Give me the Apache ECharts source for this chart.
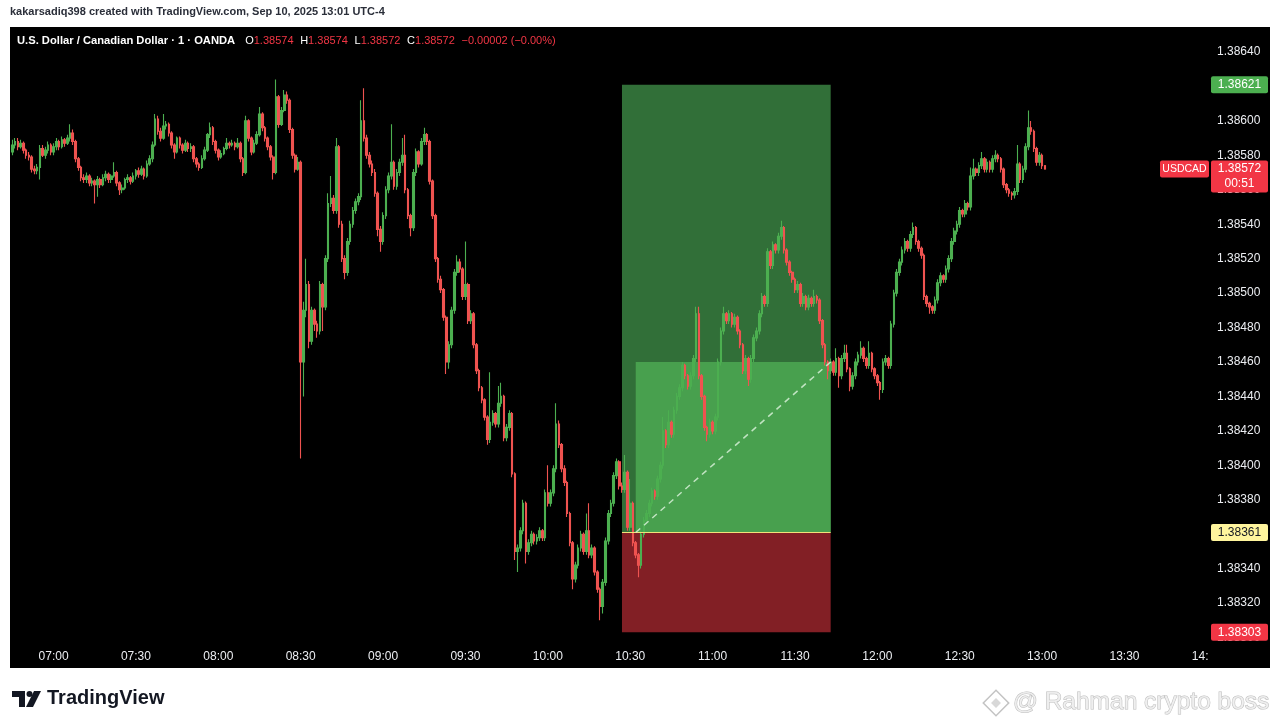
<!DOCTYPE html>
<html><head><meta charset="utf-8">
<script src="https://cdn.jsdelivr.net/npm/echarts@6/dist/echarts.min.js"></script>
<style>html,body{margin:0;padding:0;background:#fff}#c{width:1280px;height:728px}</style>
</head><body><div id="c"></div>
<script>
// Candle rows are [open, close, low, high] in points: 582 means 1.38582
const BASE = 1.38, POINT = 0.00001;
const from0645 = [[582,586,580,589],[586,588,584,590],[588,585,583,590],[585,587,584,589],[587,583,581,588],[583,580,578,584],[580,579,577,582],[579,572,570,580],[572,571,569,574],[571,573,569,575],[573,584,566,586],[584,580,579,586],[580,583,578,585],[583,586,581,588],[586,582,580,587]];
const from0700 = [[582,585,580,587],[585,588,583,590],[588,585,583,589],[585,589,584,591],[589,587,585,590],[587,590,586,592],[590,593,588,598],[593,588,586,595],[588,578,576,589],[578,573,571,579],[573,567,565,574],[567,566,564,569],[566,568,564,570],[568,564,562,569],[564,565,562,567],[565,563,552,566],[563,566,556,568],[566,563,561,567],[563,567,562,569],[567,569,565,571],[569,566,564,570],[566,568,564,569],[568,570,567,576],[570,564,562,571],[564,560,557,565],[560,561,558,563],[561,566,560,567],[566,567,564,569],[567,565,563,568],[565,568,564,570],[568,571,566,572],[571,569,567,573],[569,572,568,574],[572,568,566,573],[568,575,567,577],[575,578,574,580],[578,586,576,588],[586,601,585,604],[601,594,592,603],[594,590,588,596],[590,597,589,604],[597,598,595,600],[598,593,591,599],[593,586,584,594],[586,582,578,587],[582,590,581,591],[590,586,584,591],[586,583,581,587],[583,587,582,589],[587,584,582,588],[584,585,582,587],[585,578,576,586],[578,575,573,579],[575,573,571,576],[573,578,572,580],[578,583,577,585],[583,592,582,593],[592,596,590,599],[596,588,586,597],[588,583,581,589]];
const from0800 = [[583,579,577,584],[579,581,578,583],[581,584,580,585],[584,587,583,590],[587,586,584,588],[586,587,585,589],[587,585,583,588],[585,587,584,590],[587,578,576,588],[578,570,568,579],[570,600,569,603],[600,590,588,601],[590,582,580,591],[582,587,581,589],[587,592,586,594],[592,604,591,608],[604,596,594,605],[596,590,588,597],[590,585,583,591],[585,579,577,586],[579,570,566,580],[570,614,569,624],[614,598,596,615],[598,606,597,608],[606,615,605,618],[615,612,610,617],[612,595,593,613],[595,580,578,596],[580,572,570,581],[572,576,571,579],[576,460,404,577],[460,490,440,495],[490,505,486,520],[505,472,468,507],[472,490,470,492],[490,482,478,491],[482,478,474,484],[478,505,476,507],[505,492,478,506],[492,520,490,522],[520,552,518,558],[552,555,550,568],[555,548,546,557],[548,585,546,590],[585,540,538,586],[540,520,518,542],[520,512,508,522],[512,530,510,532],[530,540,528,542],[540,548,538,550],[548,553,546,555],[553,556,551,558],[556,600,554,612],[600,590,588,619],[590,580,578,592],[580,575,573,582],[575,570,568,577],[570,558,556,572],[558,537,533,559],[537,530,524,539]];
const from0900 = [[530,545,528,547],[545,560,543,562],[560,568,558,570],[568,576,566,598],[576,562,560,577],[562,570,560,572],[570,576,568,578],[576,580,574,590],[580,560,558,592],[560,545,543,561],[545,538,533,546],[538,570,536,572],[570,582,568,584],[582,575,573,583],[575,588,574,590],[588,592,586,596],[592,588,586,593],[588,565,563,589],[565,545,543,566],[545,520,518,546],[520,508,506,521],[508,502,500,510],[502,486,484,503],[486,460,453,487],[460,470,456,472],[470,490,468,492],[490,512,488,514],[512,518,510,522],[518,514,512,520],[514,498,496,515],[498,505,496,530],[505,484,482,506],[484,488,482,490],[488,470,468,489],[470,455,453,471],[455,445,443,456],[445,438,436,446],[438,428,426,439],[428,415,412,429],[415,425,413,454],[425,430,423,432],[430,424,422,431],[424,436,422,446],[436,440,434,448],[440,416,414,441],[416,422,414,424],[422,430,420,432],[430,395,393,431],[395,350,345,396],[350,352,338,354],[352,362,350,364],[362,378,360,380],[378,350,343,379],[350,355,348,357],[355,360,353,362],[360,356,354,361],[356,358,354,360],[358,362,356,364],[362,358,356,363],[358,384,356,386]];
const from1000 = [[384,378,376,400],[378,384,376,386],[384,398,382,400],[398,424,396,436],[424,412,410,426],[412,398,396,413],[398,390,388,400],[390,372,370,391],[372,355,353,373],[355,334,328,356],[334,342,332,344],[342,352,340,354],[352,360,350,362],[360,350,348,361],[350,362,348,372],[362,348,346,378],[348,352,346,354],[352,338,336,353],[338,328,326,339],[328,318,310,329],[318,332,314,334],[332,356,330,358],[356,372,354,374],[372,378,370,380],[378,394,376,396],[394,402,392,404],[402,388,386,403],[388,386,384,390],[386,396,384,406],[396,364,362,397],[364,378,362,392],[378,355,353,379],[355,348,346,356],[348,342,335,349],[342,360,340,362],[360,368,358,370],[368,372,366,374],[372,378,370,380],[378,385,376,387],[385,382,380,386],[382,392,380,394],[392,400,390,402],[400,420,398,428],[420,412,410,421],[412,425,410,432],[425,418,416,426],[418,432,416,434],[432,440,430,442],[440,445,438,447],[445,458,443,460],[458,452,450,459],[452,446,444,453],[446,452,444,454],[452,462,450,464],[462,488,460,492],[488,452,450,492],[452,440,438,453],[440,422,420,441],[422,418,414,423],[418,425,416,427]];
const from1100 = [[425,420,418,426],[420,428,418,430],[428,460,426,462],[460,478,458,480],[478,488,476,492],[488,484,482,489],[484,488,482,490],[488,482,480,489],[482,486,480,488],[486,478,476,487],[478,470,468,479],[470,455,453,471],[455,462,453,464],[462,450,446,463],[450,462,448,464],[462,474,460,476],[474,478,472,480],[478,488,476,490],[488,498,486,500],[498,494,492,499],[494,524,492,526],[524,516,514,525],[516,528,514,530],[528,525,523,529],[525,533,523,535],[533,538,531,542],[538,525,523,539],[525,518,516,526],[518,512,510,519],[512,508,506,513],[508,502,500,509],[502,505,500,507],[505,494,492,506],[494,498,492,500],[498,492,490,499],[492,497,490,499],[497,494,492,498],[494,498,492,502],[498,496,494,499],[496,484,482,497],[484,470,468,485],[470,460,458,471],[460,455,450,461],[455,460,453,462],[460,454,452,461],[454,462,452,468],[462,452,445,463],[452,462,450,464],[462,465,460,470],[465,456,454,470],[456,446,443,457],[446,452,444,454],[452,460,450,462],[460,464,458,466],[464,468,462,472],[468,462,460,469],[462,458,456,463],[458,465,456,472],[465,456,454,466],[456,452,450,457]];
const from1200 = [[452,448,446,453],[448,444,438,449],[444,460,442,462],[460,462,458,464],[462,458,456,463],[458,482,456,484],[482,500,480,502],[500,512,498,514],[512,518,510,520],[518,525,516,527],[525,530,523,532],[530,526,524,531],[526,534,524,536],[534,538,532,541],[538,530,528,539],[530,526,524,531],[526,522,520,527],[522,498,496,523],[498,494,492,499],[494,492,488,495],[492,490,488,493],[490,496,488,498],[496,506,494,508],[506,510,504,512],[510,508,506,511],[508,514,506,516],[514,520,512,522],[520,530,518,532],[530,536,528,538],[536,540,534,542],[540,548,538,550],[548,546,544,549],[546,552,544,554],[552,550,548,553],[550,568,548,573],[568,572,566,578],[572,570,568,573],[570,574,568,576],[574,578,572,582],[578,572,570,579],[572,576,570,578],[576,572,570,577],[572,578,570,580],[578,580,576,583],[580,578,576,581],[578,572,570,579],[572,563,561,573],[563,560,558,564],[560,558,556,561],[558,557,554,559],[557,559,555,561],[559,575,557,586],[575,566,564,576],[566,572,564,574],[572,585,570,587],[585,596,583,606],[596,594,592,600],[594,584,582,595],[584,576,574,585],[576,580,574,582]];
const from1300 = [[580,574,572,581],[574,572,572,574]];

const sessionStart = '06:45';
const slotCount = 437;               // one-minute slots shown on the time axis (06:45 .. 14:01)
const priceMin = 1.383, priceMax = 1.3864, priceStep = 0.0002;

const targetPrice = 1.38621, entryPrice = 1.38361, stopPrice = 1.38303;
const lastPrice = 1.38572, fillPrice = 1.38460;
const boxStart = '10:27', fillStart = '10:32', boxEnd = '11:43';
const countdown = '00:51';
const symbolTitle = 'U.S. Dollar / Canadian Dollar · 1 · OANDA';
const ohlcHeader = {O:'1.38574', H:'1.38574', L:'1.38572', C:'1.38572', chg:'−0.00002 (−0.00%)'};

const categories = [];
{
  const [h0, m0] = sessionStart.split(':').map(Number);
  for (let i = 0; i < slotCount; i++) {
    const m = h0 * 60 + m0 + i;
    categories.push(String(Math.floor(m / 60)).padStart(2, '0') + ':' + String(m % 60).padStart(2, '0'));
  }
}
const rows = [].concat(from0645, from0700, from0800, from0900, from1000, from1100, from1200, from1300);
const ohlc = rows.map(r => r.map(v => +(BASE + v * POINT).toFixed(5)));

const FONT = "'Liberation Sans', Arial, sans-serif";
const UP = '#4caf50', DOWN = '#ef5350';

const chart = echarts.init(document.getElementById('c'), null, {renderer: 'canvas'});
const GRID = {left: 11, right: 69, top: 52, bottom: 90.5};

chart.setOption({
  backgroundColor: '#ffffff',
  animation: false,
  grid: GRID,
  xAxis: {
    type: 'category', data: categories, boundaryGap: true,
    axisLine: {show: false}, axisTick: {show: false}, splitLine: {show: false},
    axisLabel: {
      color: '#eceef2', fontSize: 12, fontFamily: FONT, margin: 13,
      interval: (i, v) => v.endsWith(':00') || v.endsWith(':30')
    }
  },
  yAxis: {
    type: 'value', position: 'right', min: priceMin, max: priceMax, interval: priceStep,
    axisLine: {show: false}, axisTick: {show: false}, splitLine: {show: false},
    axisLabel: {color: '#eceef2', fontSize: 12, fontFamily: FONT, margin: 6, formatter: v => v.toFixed(5)}
  },
  series: [{
    type: 'candlestick', data: ohlc, barWidth: '76%',
    itemStyle: {color: UP, color0: DOWN, borderColor: UP, borderColor0: DOWN, borderWidth: 1.1},
    markArea: {
      silent: true,
      data: [
        [{xAxis: boxStart, yAxis: entryPrice, itemStyle: {color: '#316f38'}}, {xAxis: boxEnd, yAxis: targetPrice}],
        [{xAxis: fillStart, yAxis: entryPrice, itemStyle: {color: '#48a04e'}}, {xAxis: boxEnd, yAxis: fillPrice}],
        [{xAxis: boxStart, yAxis: stopPrice, itemStyle: {color: '#821f25'}}, {xAxis: boxEnd, yAxis: entryPrice}]
      ]
    },
    markLine: {
      silent: true, symbol: 'none', label: {show: false},
      data: [
        {yAxis: lastPrice, lineStyle: {color: '#f23645', type: [2, 3], width: 1}},
        [{coord: [boxStart, entryPrice], lineStyle: {color: '#f2e27a', width: 1, type: 'solid'}}, {coord: [boxEnd, entryPrice]}],
        [{coord: [fillStart, entryPrice], lineStyle: {color: 'rgba(215,240,215,0.85)', type: [6, 5], width: 1.5}}, {coord: [boxEnd, fillPrice]}]
      ]
    }
  }]
});

const gy = v => chart.convertToPixel({yAxisIndex: 0}, v);
const plotRight = 1280 - GRID.right;

function tag(x, y, w, h, text, bg, fg, font) {
  return {
    type: 'group', z: 100,
    children: [
      {type: 'rect', z: 100, shape: {x: x, y: y, width: w, height: h, r: 2}, style: {fill: bg}},
      {type: 'text', z: 101, style: {x: x + w / 2, y: y + h / 2, text: text, fill: fg, font: font || ('12px ' + FONT), align: 'center', verticalAlign: 'middle', lineHeight: 15}}
    ]
  };
}

const graphics = [
  {type: 'rect', z: -10, shape: {x: 10, y: 27, width: 1260, height: 641}, style: {fill: '#000000'}},
  {type: 'rect', z: 50, shape: {x: plotRight - 3, y: 642, width: 1273 - plotRight, height: 26}, style: {fill: '#000000'}},
  {type: 'text', z: 10, style: {x: 10, y: 12, text: 'kakarsadiq398 created with TradingView.com, Sep 10, 2025 13:01 UTC-4', fill: '#2a2e39', font: 'bold 11px ' + FONT, verticalAlign: 'middle'}},
  {type: 'text', z: 10, style: {
    x: 17, y: 41, verticalAlign: 'middle',
    text: '{t|' + symbolTitle + '}   {k|O}{v|' + ohlcHeader.O + '}  {k|H}{v|' + ohlcHeader.H + '}  {k|L}{v|' + ohlcHeader.L + '}  {k|C}{v|' + ohlcHeader.C + '}  {v|' + ohlcHeader.chg + '}',
    rich: {
      t: {fill: '#ffffff', font: 'bold 11.2px ' + FONT},
      k: {fill: '#ffffff', font: '11px ' + FONT},
      v: {fill: '#f23645', font: '11px ' + FONT}
    }
  }},
  tag(plotRight, gy(targetPrice) - 8.5, 57, 17, targetPrice.toFixed(5), '#4caf50', '#ffffff'),
  tag(plotRight, gy(entryPrice) - 8.5, 57, 17, entryPrice.toFixed(5), '#fff59d', '#131722'),
  tag(plotRight, gy(stopPrice) - 8.5, 57, 17, stopPrice.toFixed(5), '#f23645', '#ffffff'),
  tag(plotRight - 51, gy(lastPrice) - 8.5, 49, 17, 'USDCAD', '#f23645', '#ffffff', '10.5px ' + FONT),
  tag(plotRight, gy(lastPrice) - 8.5, 57, 32, lastPrice.toFixed(5) + '\n' + countdown, '#f23645', '#ffffff'),
  // TradingView logo
  {type: 'polygon', z: 10, shape: {points: [[12, 691], [25, 691], [25, 707], [19, 707], [19, 697], [12, 697]]}, style: {fill: '#131722'}},
  {type: 'circle', z: 10, shape: {cx: 29.5, cy: 694, r: 3}, style: {fill: '#131722'}},
  {type: 'polygon', z: 10, shape: {points: [[34, 691], [41, 691], [33, 707], [26, 707]]}, style: {fill: '#131722'}},
  {type: 'text', z: 10, style: {x: 47, y: 698, text: 'TradingView', fill: '#131722', font: 'bold 20px ' + FONT, verticalAlign: 'middle'}},
  // watermark
  {type: 'rect', z: 10, rotation: Math.PI / 4, originX: 996, originY: 703, shape: {x: 987, y: 694, width: 18, height: 18}, style: {fill: 'none', stroke: 'rgba(170,170,170,0.7)', lineWidth: 1.5}},
  {type: 'rect', z: 10, rotation: Math.PI / 4, originX: 996, originY: 703, shape: {x: 992.5, y: 699.5, width: 7, height: 7}, style: {fill: 'rgba(200,200,200,0.7)'}},
  {type: 'text', z: 10, style: {x: 1013, y: 702, text: '@ Rahman crypto boss', fill: 'rgba(238,238,238,0.9)', stroke: 'rgba(160,160,160,0.7)', lineWidth: 1, font: '24.5px ' + FONT, verticalAlign: 'middle'}}
];
chart.setOption({graphic: graphics});
</script></body></html>
